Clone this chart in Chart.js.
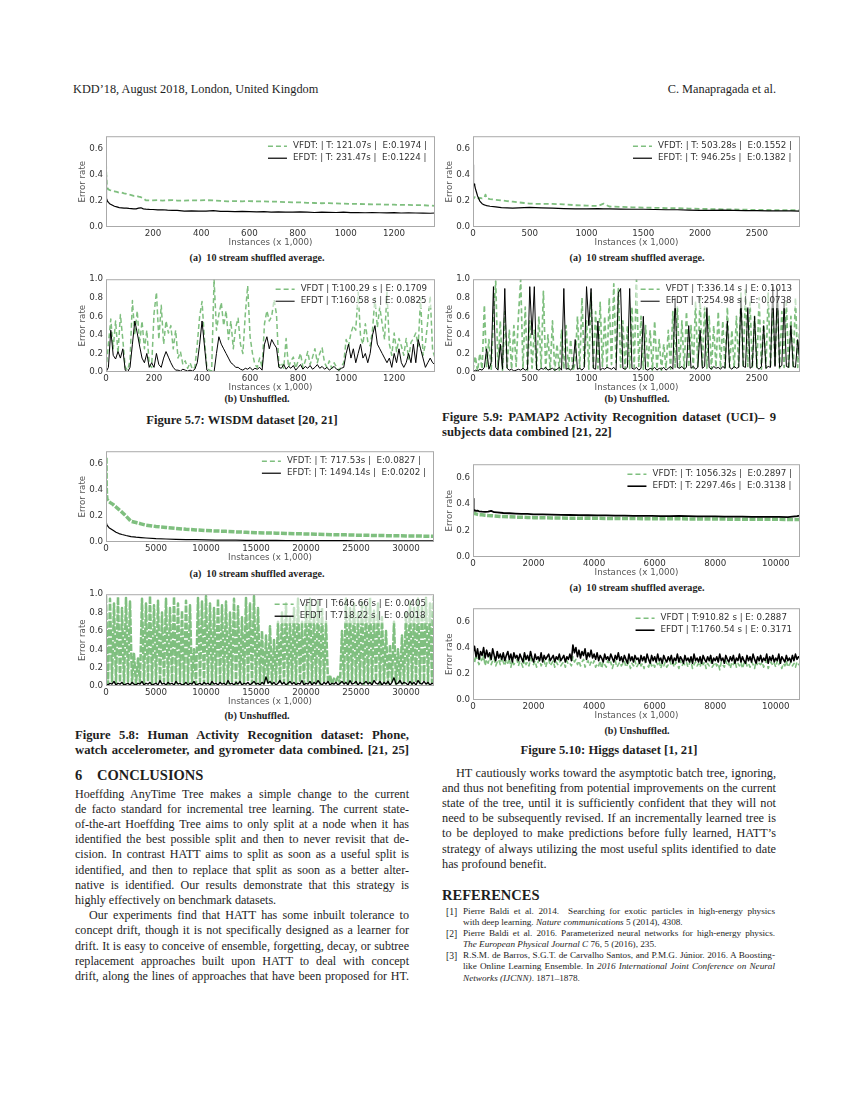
<!DOCTYPE html>
<html>
<head>
<meta charset="utf-8">
<script src="https://cdn.jsdelivr.net/npm/chart.js@4"></script>
<style>
  html, body { margin: 0; background: #fff; }
  #page { position: relative; width: 850px; height: 1100px; overflow: hidden;
          font-family: 'Liberation Serif', 'Times New Roman', serif; color: #1e1e1e; }
  canvas { position: absolute; }
  .abs { position: absolute; white-space: nowrap; }
  .hdr { font-size: 12.3px; line-height: 14px; }
  .sub { position: absolute; white-space: nowrap; font-weight: bold; font-size: 10.1px; line-height: 1;
         transform: translate(-50%, -50%); }
  .figc { position: absolute; white-space: nowrap; font-weight: bold; font-size: 12.6px; line-height: 1;
          transform: translate(-50%, -50%); }
  .block { position: absolute; }
  .ln { white-space: normal; }
  .ln.j { text-align: justify; text-align-last: justify; }
  .ln.ind { padding-left: 14px; }
  .measuring .ln { white-space: nowrap; text-align: left !important; text-align-last: auto !important; }
  .sect { position: absolute; font-weight: bold; font-size: 14.5px; line-height: 18px; white-space: nowrap; }
  .refno { position: absolute; font-size: 9.6px; line-height: 11.1px; }
</style>
</head>
<body>
<div id="page">
  <div class="abs hdr" style="left:73px; top:82px">KDD’18, August 2018, London, United Kingdom</div>
  <div class="abs hdr" style="right:74px; top:82px">C. Manapragada et al.</div>

  <div class="sub" style="left:257px; top:258px">(a)&ensp;10 stream shuffled average.</div>
  <div class="sub" style="left:257px; top:399px">(b) Unshuffled.</div>
  <div class="figc" style="left:242px; top:420px">Figure 5.7: WISDM dataset [20, 21]</div>

  <div class="sub" style="left:637px; top:258px">(a)&ensp;10 stream shuffled average.</div>
  <div class="sub" style="left:637px; top:399px">(b) Unshuffled.</div>
  <div class="block cap2" style="left:442px; top:410px; width:334px; line-height:15px; font-weight:bold">
    <div class="ln j">Figure 5.9: PAMAP2 Activity Recognition dataset (UCI)– 9</div>
    <div class="ln">subjects data combined [21, 22]</div>
  </div>

  <div class="sub" style="left:257px; top:574px">(a)&ensp;10 stream shuffled average.</div>
  <div class="sub" style="left:257px; top:716px">(b) Unshuffled.</div>
  <div class="block cap2" style="left:75px; top:728px; width:334px; line-height:15px; font-weight:bold">
    <div class="ln j">Figure 5.8: Human Activity Recognition dataset: Phone,</div>
    <div class="ln j">watch accelerometer, and gyrometer data combined. [21, 25]</div>
  </div>

  <div class="sub" style="left:637px; top:588px">(a)&ensp;10 stream shuffled average.</div>
  <div class="sub" style="left:637px; top:731px">(b) Unshuffled.</div>
  <div class="figc" style="left:609px; top:750px">Figure 5.10: Higgs dataset [1, 21]</div>

  <div class="sect" style="left:75px; top:766px">6</div>
  <div class="sect" style="left:97px; top:766px">CONCLUSIONS</div>
  <div class="block body" style="left:75px; top:786.5px; width:334px; line-height:15.2px">
    <div class="ln j">Hoeffding AnyTime Tree makes a simple change to the current</div>
    <div class="ln j">de facto standard for incremental tree learning. The current state-</div>
    <div class="ln j">of-the-art Hoeffding Tree aims to only split at a node when it has</div>
    <div class="ln j">identified the best possible split and then to never revisit that de-</div>
    <div class="ln j">cision. In contrast HATT aims to split as soon as a useful split is</div>
    <div class="ln j">identified, and then to replace that split as soon as a better alter-</div>
    <div class="ln j">native is identified. Our results demonstrate that this strategy is</div>
    <div class="ln">highly effectively on benchmark datasets.</div>
    <div class="ln j ind">Our experiments find that HATT has some inbuilt tolerance to</div>
    <div class="ln j">concept drift, though it is not specifically designed as a learner for</div>
    <div class="ln j">drift. It is easy to conceive of ensemble, forgetting, decay, or subtree</div>
    <div class="ln j">replacement approaches built upon HATT to deal with concept</div>
    <div class="ln j">drift, along the lines of approaches that have been proposed for HT.</div>
  </div>

  <div class="block body" style="left:442px; top:765.5px; width:334px; line-height:15.2px">
    <div class="ln j ind">HT cautiously works toward the asymptotic batch tree, ignoring,</div>
    <div class="ln j">and thus not benefiting from potential improvements on the current</div>
    <div class="ln j">state of the tree, until it is sufficiently confident that they will not</div>
    <div class="ln j">need to be subsequently revised. If an incrementally learned tree is</div>
    <div class="ln j">to be deployed to make predictions before fully learned, HATT’s</div>
    <div class="ln j">strategy of always utilizing the most useful splits identified to date</div>
    <div class="ln">has profound benefit.</div>
  </div>

  <div class="sect" style="left:442px; top:886px">REFERENCES</div>
  <div class="refno" style="left:446px; top:906px">[1]</div>
  <div class="refno" style="left:446px; top:928.2px">[2]</div>
  <div class="refno" style="left:446px; top:950.4px">[3]</div>
  <div class="block refs" style="left:463px; top:906px; width:312px; line-height:11.1px">
    <div class="ln j">Pierre Baldi et al. 2014.&nbsp; Searching for exotic particles in high-energy physics</div>
    <div class="ln">with deep learning. <i>Nature communications</i> 5 (2014), 4308.</div>
    <div class="ln j">Pierre Baldi et al. 2016. Parameterized neural networks for high-energy physics.</div>
    <div class="ln"><i>The European Physical Journal C</i> 76, 5 (2016), 235.</div>
    <div class="ln j">R.S.M. de Barros, S.G.T. de Carvalho Santos, and P.M.G. Júnior. 2016. A Boosting-</div>
    <div class="ln j">like Online Learning Ensemble. In <i>2016 International Joint Conference on Neural</i></div>
    <div class="ln"><i>Networks (IJCNN)</i>. 1871–1878.</div>
  </div>
</div>

<script>
// ---- tick labels ----
var errTicksShort = [0, 0.2, 0.4, 0.6];
var errTicksFull = [0, 0.2, 0.4, 0.6, 0.8, 1.0];
var wisdmShufTicks = [200, 400, 600, 800, 1000, 1200];
var wisdmRawTicks = [0, 200, 400, 600, 800, 1000, 1200];
var pamapTicks = [0, 500, 1000, 1500, 2000, 2500];
var harTicks = [0, 5000, 10000, 15000, 20000, 25000, 30000];
var higgsTicks = [0, 2000, 4000, 6000, 8000, 10000];

// ---- WISDM (Figure 5.7) ----
var wisdmShufX = [5, 6, 8, 11, 15, 20, 30, 40, 50, 60, 70, 80, 90, 100, 110, 120, 130, 140, 150, 160, 170, 185, 200,
  220, 240, 260, 280, 300, 330, 360, 390, 420, 450, 480, 510, 540, 570, 600, 630, 660, 690, 720, 750, 780, 810, 840,
  870, 900, 930, 960, 990, 1020, 1050, 1080, 1110, 1140, 1170, 1200, 1230, 1260, 1290, 1320, 1350, 1370];
var wisdmShufVfdt = [0.55, 0.42, 0.33, 0.30, 0.29, 0.285,
  0.28, 0.275, 0.27, 0.265, 0.266, 0.26, 0.256, 0.25, 0.246, 0.24, 0.241, 0.235, 0.23, 0.22, 0.206,
  0.205, 0.206,
  0.208, 0.204, 0.206, 0.207, 0.204,
  0.203, 0.206, 0.205, 0.207, 0.205, 0.201, 0.198, 0.2, 0.198, 0.2, 0.197, 0.197, 0.196, 0.195, 0.192,
  0.19, 0.19, 0.186, 0.185, 0.183, 0.184, 0.182, 0.18, 0.178, 0.178, 0.176, 0.175, 0.175, 0.172, 0.172,
  0.17, 0.17, 0.168, 0.168, 0.165,
  0.163];
var wisdmShufEfdt = [0.40, 0.26, 0.22, 0.20, 0.19, 0.18,
  0.17, 0.16, 0.155, 0.15, 0.148, 0.145, 0.145, 0.143, 0.142, 0.14, 0.14, 0.145, 0.148, 0.14, 0.138,
  0.136, 0.135,
  0.132, 0.133, 0.13, 0.128, 0.128,
  0.122, 0.124, 0.122, 0.123, 0.126, 0.12, 0.12, 0.118, 0.12, 0.118, 0.116, 0.118, 0.115, 0.117, 0.115,
  0.114, 0.116, 0.114, 0.112, 0.115, 0.113, 0.112, 0.114, 0.111, 0.112, 0.11, 0.112, 0.11, 0.109, 0.111,
  0.108, 0.11, 0.108, 0.107, 0.106,
  0.108];
var wisdmShufLabels = ['VFDT: | T: 121.07s |  E:0.1974 |', 'EFDT: | T: 231.47s |  E:0.1224 |'];

var wisdmRawStep = 10;
var wisdmRawVfdt = [
  0.02, 0.30, 0.57, 0.25, 0.55, 0.20, 0.62, 0.35, 0.05, 0.02,
  0.12, 0.77, 0.40, 0.66, 0.30, 0.55, 0.25, 0.45, 0.08, 0.05,
  0.63, 0.86, 0.35, 0.72, 0.30, 0.55, 0.42, 0.50, 0.25, 0.45,
  0.15, 0.22, 0.08, 0.12, 0.04, 0.10, 0.03, 0.05, 0.30, 0.60,
  0.76, 0.35, 0.05, 0.02, 0.01, 1.00, 0.45, 0.62, 0.75, 0.50,
  0.66, 0.35, 0.55, 0.25, 0.48, 0.58, 0.30, 0.20, 0.62, 0.93,
  0.38, 0.20, 0.08, 0.05, 0.15, 0.05, 0.52, 0.66, 0.55, 0.60,
  0.78, 0.62, 0.06, 0.10, 0.04, 0.36, 0.05, 0.12, 0.16, 0.04,
  0.12, 0.20, 0.05, 0.12, 0.22, 0.08, 0.16, 0.25, 0.10, 0.20,
  0.26, 0.10, 0.05, 0.12, 0.04, 0.10, 0.05, 0.02, 0.06, 0.10,
  0.35, 0.28, 0.42, 0.50, 0.45, 0.86, 0.38, 0.30, 0.52, 0.33,
  0.28, 0.46, 0.80, 0.48, 0.70, 0.52, 0.35, 0.86, 0.30, 0.18,
  0.42, 0.22, 0.36, 0.28, 0.18, 0.36, 0.14, 0.32, 0.36, 0.42,
  0.28, 0.80, 0.18, 0.30, 0.55, 0.82, 0.24, 0.15];
var wisdmRawEfdt = [
  0.00, 0.05, 0.45, 0.18, 0.14, 0.22, 0.15, 0.25, 0.02, 0.00,
  0.05, 0.30, 0.55, 0.42, 0.28, 0.15, 0.10, 0.20, 0.05, 0.10,
  0.05, 0.20, 0.08, 0.05, 0.15, 0.22, 0.16, 0.10, 0.05, 0.02,
  0.02, 0.01, 0.03, 0.02, 0.01, 0.02, 0.01, 0.03, 0.10, 0.30,
  0.55, 0.28, 0.02, 0.00, 0.00, 0.00, 0.20, 0.38, 0.30, 0.25,
  0.20, 0.15, 0.10, 0.08, 0.05, 0.05, 0.03, 0.02, 0.04, 0.03,
  0.05, 0.02, 0.04, 0.03, 0.05, 0.02, 0.30, 0.38, 0.25, 0.35,
  0.30, 0.26, 0.05, 0.04, 0.08, 0.03, 0.06, 0.04, 0.07, 0.02,
  0.05, 0.08, 0.03, 0.06, 0.04, 0.07, 0.03, 0.05, 0.08, 0.04,
  0.06, 0.03, 0.05, 0.02, 0.04, 0.06, 0.03, 0.02, 0.04, 0.05,
  0.20, 0.30, 0.15, 0.25, 0.10, 0.20, 0.30, 0.15, 0.20, 0.10,
  0.20, 0.40, 0.50, 0.30, 0.25, 0.20, 0.15, 0.10, 0.15, 0.05,
  0.20, 0.10, 0.25, 0.10, 0.05, 0.10, 0.20, 0.10, 0.30, 0.10,
  0.35, 0.25, 0.15, 0.05, 0.10, 0.15, 0.10, 0.08];
var wisdmRawLabels = ['VFDT | T:100.29 s | E: 0.1709', 'EFDT | T:160.58 s | E: 0.0825'];

// ---- PAMAP2 (Figure 5.9) ----
var pamapShufX = [0, 3, 6, 10, 15, 20, 30, 40, 50, 60, 80, 100, 110, 120, 150, 200, 250, 300, 350, 400, 450, 500,
  600, 700, 800, 900, 1000, 1100, 1150, 1200, 1300, 1400, 1500, 1600, 1700, 1800, 1900, 2000, 2100, 2200, 2300,
  2400, 2500, 2600, 2700, 2800, 2880];
var pamapShufVfdt = [0.22, 0.23, 0.22, 0.225, 0.23, 0.225, 0.23, 0.225, 0.22, 0.225,
  0.22, 0.225, 0.25, 0.22, 0.215,
  0.21, 0.205, 0.2, 0.195, 0.19, 0.185, 0.18,
  0.178, 0.178, 0.175, 0.168, 0.165, 0.162,
  0.18,
  0.158, 0.155, 0.152, 0.15, 0.148, 0.146, 0.145, 0.142, 0.14, 0.138, 0.136, 0.135, 0.133, 0.132, 0.131, 0.13, 0.13,
  0.129];
var pamapShufEfdt = [0.48, 0.35, 0.34, 0.33, 0.32, 0.30, 0.27, 0.24, 0.22, 0.20,
  0.18, 0.17, 0.168, 0.165, 0.16,
  0.155, 0.15, 0.148, 0.145, 0.148, 0.15, 0.152,
  0.148, 0.145, 0.142, 0.14, 0.14, 0.142,
  0.14,
  0.14, 0.138, 0.137, 0.137, 0.135, 0.133, 0.133, 0.13, 0.128, 0.128, 0.13, 0.128, 0.127, 0.127, 0.125, 0.125, 0.124,
  0.123];
var pamapShufLabels = ['VFDT: | T: 503.28s |  E:0.1552 |', 'EFDT: | T: 946.25s |  E:0.1382 |'];

var pamapRawStep = 20;
var pamapRawVfdt = [
  0.02, 0.17, 0.01, 0.20, 0.03, 0.72, 0.05, 0.35, 0.02, 0.60,
  0.98, 0.04, 0.55, 0.02, 0.65, 0.05, 0.45, 0.03, 0.50, 0.06,
  0.60, 1.00, 0.03, 0.70, 0.02, 0.55, 0.04, 0.45, 0.03, 0.60,
  0.05, 0.87, 0.03, 0.40, 0.02, 0.55, 0.01, 0.30, 0.02, 0.45,
  0.03, 0.50, 0.02, 0.35, 0.01, 0.10, 0.60, 0.04, 0.80, 0.05,
  0.55, 0.03, 0.85, 0.05, 0.65, 0.04, 0.75, 0.06, 0.60, 0.05,
  0.80, 0.08, 0.95, 0.10, 0.90, 0.05, 0.55, 0.03, 0.50, 0.04,
  0.70, 0.05, 1.00, 0.06, 0.60, 0.03, 0.50, 0.04, 0.45, 0.02,
  0.55, 0.03, 0.35, 0.02, 0.30, 0.04, 0.45, 0.03, 0.65, 0.05,
  0.70, 0.04, 0.55, 0.03, 0.65, 0.05, 0.50, 0.04, 0.75, 0.06,
  0.80, 0.05, 0.70, 0.04, 0.60, 0.03, 0.50, 0.05, 0.65, 0.04,
  0.55, 0.03, 0.70, 0.05, 0.45, 0.04, 0.60, 0.06, 0.85, 0.05,
  0.90, 0.06, 0.75, 0.04, 0.60, 0.05, 0.80, 0.03, 0.55, 0.04,
  0.85, 0.05, 0.70, 0.06, 0.80, 0.04, 0.65, 0.05, 0.75, 0.03,
  0.60, 0.04, 0.80, 0.05, 0.55];
var pamapRawEfdt = [
  0.00, 0.02, 0.01, 0.03, 0.02, 0.05, 0.25, 0.03, 0.10, 0.92,
  0.05, 0.02, 0.30, 0.03, 0.90, 0.04, 0.02, 0.03, 0.01, 0.02,
  0.03, 0.02, 0.04, 0.02, 0.03, 0.92, 0.40, 0.92, 0.03, 0.02,
  0.04, 0.03, 0.05, 0.02, 0.03, 0.04, 0.02, 0.03, 0.05, 0.02,
  0.90, 0.03, 0.04, 0.02, 0.05, 0.35, 0.03, 0.04, 0.02, 0.05,
  0.92, 0.50, 0.90, 0.04, 0.03, 0.55, 0.02, 0.04, 0.03, 0.05,
  0.04, 0.03, 0.05, 0.02, 0.85, 0.90, 0.04, 0.03, 0.05, 0.90,
  0.04, 0.03, 0.05, 0.02, 0.04, 0.60, 0.03, 0.02, 0.04, 0.03,
  0.05, 0.02, 0.04, 0.03, 0.05, 0.02, 0.04, 0.06, 0.03, 0.80,
  0.05, 0.04, 0.06, 0.03, 0.05, 0.50, 0.04, 0.06, 0.03, 0.05,
  0.45, 0.04, 0.06, 0.70, 0.05, 0.03, 0.06, 0.04, 0.05, 0.03,
  0.06, 0.04, 0.55, 0.05, 0.03, 0.06, 0.04, 0.05, 0.80, 0.06,
  0.05, 0.70, 0.04, 0.06, 0.60, 0.05, 0.03, 0.06, 0.50, 0.04,
  0.06, 0.05, 0.92, 0.06, 0.90, 0.05, 0.07, 0.75, 0.06, 0.05,
  0.50, 0.06, 0.05, 0.35, 0.07];
var pamapRawLabels = ['VFDT | T:336.14 s | E: 0.1013', 'EFDT | T:254.98 s | E: 0.0738'];

// ---- Human Activity Recognition (Figure 5.8) ----
var harShufX = [0, 20, 50, 100, 200, 300, 500, 700, 1000, 1300, 1600, 2000, 2500, 3000, 3500, 4000,
  5000, 6000, 7000, 8000, 9000, 10000, 11000, 12000, 13000, 14000, 15000, 16000, 17000, 18000, 19000,
  20000, 21000, 22000, 23000, 24000, 25000, 26000, 27000, 28000, 29000, 30000, 31000, 32000, 32800];
var harShufVfdt = [0.65, 0.45, 0.36, 0.33, 0.32, 0.31, 0.30, 0.29, 0.27, 0.25, 0.23, 0.20, 0.16, 0.15, 0.14, 0.13,
  0.12, 0.112, 0.105, 0.098, 0.093, 0.088, 0.085, 0.082, 0.078, 0.075, 0.072, 0.07, 0.068, 0.066, 0.064,
  0.062, 0.06, 0.058, 0.056, 0.055, 0.053, 0.052, 0.05, 0.049, 0.048, 0.047, 0.046, 0.045, 0.044];
var harShufEfdt = [0.25, 0.18, 0.15, 0.13, 0.12, 0.11, 0.10, 0.09, 0.075, 0.065, 0.058, 0.05, 0.042, 0.037, 0.034, 0.031,
  0.026, 0.023, 0.021, 0.019, 0.018, 0.016, 0.015, 0.015, 0.014, 0.013, 0.013, 0.012, 0.012, 0.011, 0.011,
  0.011, 0.01, 0.01, 0.01, 0.01, 0.009, 0.009, 0.009, 0.009, 0.008, 0.008, 0.008, 0.008, 0.008];
var harShufLabels = ['VFDT: | T: 717.53s |  E:0.0827 |', 'EFDT: | T: 1494.14s |  E:0.0202 |'];

var harRawStep = 200;
var harRawVfdt = [
  0.98, 0.02, 0.95, 0.05, 0.90, 0.03, 0.97, 0.04, 0.85, 0.02,
  0.96, 0.05, 0.92, 0.03, 0.35, 0.02, 0.30, 0.04, 0.95, 0.03,
  0.90, 0.05, 0.98, 0.02, 0.88, 0.04, 0.93, 0.03, 0.80, 0.05,
  0.95, 0.02, 0.85, 0.04, 0.97, 0.03, 0.90, 0.05, 0.82, 0.02,
  0.93, 0.04, 0.88, 0.03, 0.40, 0.02, 0.96, 0.05, 0.92, 0.03,
  0.98, 0.04, 0.90, 0.02, 0.85, 0.05, 0.95, 0.03, 0.88, 0.04,
  0.92, 0.03, 0.80, 0.05, 0.95, 0.02, 0.87, 0.04, 0.75, 0.03,
  0.96, 0.05, 0.90, 0.03, 0.98, 0.02, 0.85, 0.04, 0.60, 0.03,
  0.55, 0.04, 0.65, 0.02, 0.50, 0.05, 0.70, 0.03, 0.80, 0.04,
  0.90, 0.02, 0.75, 0.05, 0.85, 0.03, 0.95, 0.04, 0.70, 0.02,
  0.88, 0.05, 0.95, 0.03, 0.80, 0.04, 0.92, 0.02, 0.85, 0.05,
  0.70, 0.03, 0.12, 0.02, 0.08, 0.05, 0.10, 0.03, 0.60, 0.04,
  0.95, 0.02, 0.85, 0.05, 0.90, 0.03, 0.80, 0.04, 0.93, 0.02,
  0.88, 0.04, 0.96, 0.03, 0.82, 0.05, 0.90, 0.02, 0.75, 0.04,
  0.60, 0.03, 0.45, 0.05, 0.70, 0.02, 0.40, 0.04, 0.55, 0.03,
  0.80, 0.05, 0.92, 0.02, 0.85, 0.04, 0.95, 0.03, 0.88, 0.05,
  0.96, 0.03, 0.90, 0.04, 0.98];
var harRawEfdt = [
  0.02, 0.01, 0.03, 0.02, 0.05, 0.01, 0.03, 0.02, 0.04, 0.01,
  0.02, 0.03, 0.01, 0.04, 0.02, 0.01, 0.03, 0.02, 0.05, 0.01,
  0.03, 0.02, 0.04, 0.01, 0.02, 0.03, 0.01, 0.06, 0.02, 0.03,
  0.01, 0.04, 0.02, 0.03, 0.01, 0.05, 0.02, 0.03, 0.01, 0.02,
  0.04, 0.01, 0.03, 0.02, 0.05, 0.01, 0.02, 0.03, 0.01, 0.04,
  0.02, 0.03, 0.01, 0.05, 0.02, 0.03, 0.01, 0.04, 0.02, 0.03,
  0.01, 0.06, 0.02, 0.03, 0.01, 0.04, 0.02, 0.05, 0.01, 0.03,
  0.02, 0.04, 0.01, 0.03, 0.05, 0.02, 0.03, 0.01, 0.04, 0.02,
  0.10, 0.03, 0.05, 0.02, 0.04, 0.01, 0.03, 0.06, 0.02, 0.04,
  0.01, 0.03, 0.05, 0.02, 0.04, 0.01, 0.03, 0.02, 0.06, 0.01,
  0.03, 0.02, 0.05, 0.01, 0.04, 0.02, 0.06, 0.03, 0.01, 0.04,
  0.02, 0.05, 0.01, 0.03, 0.02, 0.04, 0.01, 0.03, 0.05, 0.02,
  0.04, 0.01, 0.06, 0.02, 0.03, 0.05, 0.01, 0.04, 0.02, 0.03,
  0.05, 0.02, 0.04, 0.01, 0.06, 0.03, 0.02, 0.05, 0.01, 0.04,
  0.02, 0.05, 0.01, 0.04, 0.09, 0.02, 0.03, 0.06, 0.02, 0.04,
  0.03, 0.01, 0.05, 0.02, 0.04, 0.01, 0.06, 0.03, 0.02, 0.05,
  0.02, 0.04, 0.01, 0.03, 0.02];
var harRawLabels = ['VFDT | T:646.66 s | E: 0.0405', 'EFDT | T:718.22 s | E: 0.0018'];

// ---- Higgs (Figure 5.10) ----
var higgsShufX = [0, 10, 30, 60, 100, 150, 200, 300, 400, 500, 600, 700, 800, 1000, 1200, 1400, 1600, 1800, 2000,
  2300, 2600, 2900, 3200, 3500, 3800, 4100, 4400, 4700, 5000, 5300, 5600, 5900, 6200, 6500, 6800, 7100, 7400,
  7700, 8000, 8300, 8600, 8900, 9200, 9500, 9800, 10100, 10400, 10700, 10800];
var higgsShufVfdt = [0.34, 0.335, 0.33, 0.328, 0.325, 0.322, 0.32, 0.318, 0.315, 0.313, 0.312, 0.31, 0.308,
  0.305, 0.303, 0.301, 0.3, 0.298, 0.297,
  0.296, 0.295, 0.294, 0.293, 0.293, 0.292, 0.292, 0.291, 0.291, 0.29,
  0.29, 0.289, 0.289, 0.288, 0.288, 0.288, 0.287, 0.287, 0.286, 0.286,
  0.286, 0.285, 0.285, 0.285, 0.284, 0.284, 0.284, 0.283, 0.283,
  0.283];
var higgsShufEfdt = [0.44, 0.36, 0.35, 0.352, 0.348, 0.35, 0.345, 0.342, 0.34, 0.342, 0.348, 0.338, 0.336,
  0.332, 0.33, 0.328, 0.326, 0.325, 0.322,
  0.321, 0.32, 0.318, 0.317, 0.316, 0.315, 0.314, 0.314, 0.312, 0.312,
  0.311, 0.31, 0.31, 0.309, 0.309, 0.31, 0.308, 0.307, 0.306, 0.306,
  0.305, 0.305, 0.304, 0.303, 0.303, 0.302, 0.302, 0.301, 0.308,
  0.312];
var higgsShufLabels = ['VFDT: | T: 1056.32s |  E:0.2897 |', 'EFDT: | T: 2297.46s |  E:0.3138 |'];

var higgsRawStep = 50;
var higgsRawVfdt = [
  0.33, 0.28, 0.35, 0.30, 0.27, 0.32, 0.29, 0.34, 0.26, 0.31,
  0.28, 0.33, 0.27, 0.30, 0.32, 0.26, 0.29, 0.31, 0.27, 0.33,
  0.29, 0.26, 0.31, 0.28, 0.32, 0.25, 0.30, 0.27, 0.29, 0.31,
  0.26, 0.30, 0.28, 0.25, 0.31, 0.27, 0.29, 0.26, 0.32, 0.28,
  0.27, 0.30, 0.25, 0.29, 0.31, 0.26, 0.28, 0.30, 0.25, 0.29,
  0.31, 0.26, 0.28, 0.30, 0.25, 0.29, 0.27, 0.31, 0.26, 0.28,
  0.29, 0.25, 0.30, 0.27, 0.28, 0.26, 0.33, 0.29, 0.31, 0.27,
  0.30, 0.26, 0.29, 0.31, 0.25, 0.28, 0.30, 0.26, 0.29, 0.27,
  0.30, 0.25, 0.28, 0.26, 0.30, 0.24, 0.29, 0.27, 0.25, 0.30,
  0.27, 0.29, 0.24, 0.28, 0.30, 0.25, 0.27, 0.29, 0.26, 0.28,
  0.30, 0.25, 0.27, 0.29, 0.24, 0.28, 0.26, 0.30, 0.25, 0.27,
  0.29, 0.26, 0.28, 0.24, 0.30, 0.27, 0.25, 0.29, 0.26, 0.28,
  0.25, 0.29, 0.27, 0.30, 0.24, 0.28, 0.26, 0.29, 0.25, 0.27,
  0.30, 0.26, 0.28, 0.25, 0.29, 0.27, 0.24, 0.30, 0.26, 0.28,
  0.27, 0.29, 0.25, 0.28, 0.30, 0.24, 0.27, 0.29, 0.26, 0.28,
  0.25, 0.30, 0.27, 0.29, 0.24, 0.28, 0.26, 0.30, 0.25, 0.27,
  0.29, 0.26, 0.28, 0.23, 0.29, 0.27, 0.25, 0.30, 0.26, 0.28,
  0.24, 0.29, 0.27, 0.30, 0.25, 0.28, 0.26, 0.29, 0.24, 0.28,
  0.30, 0.26, 0.28, 0.25, 0.29, 0.27, 0.24, 0.30, 0.26, 0.28,
  0.27, 0.29, 0.25, 0.28, 0.30, 0.24, 0.27, 0.29, 0.26, 0.28,
  0.25, 0.30, 0.27, 0.29, 0.24, 0.28, 0.26, 0.30, 0.25, 0.27,
  0.29, 0.26, 0.28, 0.25, 0.29, 0.27, 0.28];
var higgsRawEfdt = [
  0.36, 0.41, 0.33, 0.39, 0.31, 0.37, 0.34, 0.40, 0.32, 0.38,
  0.33, 0.36, 0.31, 0.39, 0.34, 0.30, 0.37, 0.32, 0.35, 0.31,
  0.36, 0.30, 0.34, 0.37, 0.31, 0.35, 0.29, 0.36, 0.32, 0.34,
  0.30, 0.35, 0.32, 0.29, 0.36, 0.31, 0.34, 0.30, 0.37, 0.32,
  0.29, 0.35, 0.31, 0.33, 0.30, 0.36, 0.29, 0.34, 0.31, 0.33,
  0.35, 0.30, 0.32, 0.34, 0.29, 0.33, 0.31, 0.35, 0.30, 0.32,
  0.34, 0.29, 0.33, 0.31, 0.35, 0.30, 0.42, 0.36, 0.40, 0.33,
  0.38, 0.32, 0.37, 0.34, 0.39, 0.31, 0.36, 0.33, 0.38, 0.32,
  0.35, 0.31, 0.36, 0.30, 0.34, 0.32, 0.29, 0.35, 0.31, 0.33,
  0.30, 0.35, 0.32, 0.29, 0.34, 0.31, 0.36, 0.30, 0.33, 0.29,
  0.34, 0.31, 0.28, 0.35, 0.30, 0.33, 0.29, 0.34, 0.31, 0.32,
  0.28, 0.34, 0.30, 0.33, 0.29, 0.35, 0.31, 0.28, 0.34, 0.30,
  0.33, 0.29, 0.35, 0.30, 0.32, 0.28, 0.34, 0.31, 0.29, 0.33,
  0.30, 0.34, 0.28, 0.32, 0.30, 0.35, 0.29, 0.33, 0.31, 0.28,
  0.34, 0.30, 0.32, 0.29, 0.33, 0.28, 0.35, 0.30, 0.32, 0.29,
  0.33, 0.28, 0.34, 0.31, 0.29, 0.33, 0.30, 0.34, 0.28, 0.32,
  0.30, 0.33, 0.29, 0.35, 0.30, 0.32, 0.28, 0.34, 0.31, 0.29,
  0.33, 0.30, 0.34, 0.28, 0.32, 0.30, 0.35, 0.29, 0.33, 0.30,
  0.28, 0.34, 0.30, 0.33, 0.29, 0.35, 0.31, 0.28, 0.33, 0.30,
  0.34, 0.29, 0.32, 0.30, 0.35, 0.28, 0.33, 0.30, 0.34, 0.29,
  0.32, 0.30, 0.35, 0.28, 0.33, 0.31, 0.29, 0.34, 0.30, 0.32,
  0.29, 0.34, 0.30, 0.35, 0.31, 0.33, 0.32];
var higgsRawLabels = ['VFDT | T:910.82 s | E: 0.2887', 'EFDT | T:1760.54 s | E: 0.3171'];

// ---- drawing ----
var GREEN = '#7fbf7f';
var FRAME = '#aaaaaa';
var Y_AXIS_W = 32, X_AXIS_H = 24, PAD_TOP = 6, PAD_RIGHT = 4;

Chart.defaults.font.family = "'DejaVu Sans', sans-serif";
Chart.defaults.font.size = 8.7;
Chart.defaults.color = '#333';

function stepXs(n, step) {
  var xs = [];
  for (var i = 0; i < n; i++) xs.push(i * step);
  return xs;
}
function points(xs, ys) {
  return ys.map(function (y, i) { return {x: xs[i], y: y}; });
}
function fixedTicks(list) {
  return function (scale) {
    scale.ticks = list.map(function (v) { return {value: v}; });
  };
}

// grey box round the plot, like the matplotlib spines
var framePlugin = {
  id: 'frame',
  afterDraw: function (chart) {
    var a = chart.chartArea, c = chart.ctx;
    c.save();
    c.strokeStyle = FRAME;
    c.lineWidth = 1;
    c.strokeRect(a.left + 0.5, a.top + 0.5, a.right - a.left - 1, a.bottom - a.top - 1);
    c.restore();
  }
};

// legend in the upper right corner of the plot
var cornerLegend = {
  id: 'cornerLegend',
  afterDatasetsDraw: function (chart) {
    var a = chart.chartArea, c = chart.ctx;
    var sets = chart.data.datasets;
    c.save();
    c.font = "8.7px 'DejaVu Sans'";
    var tw = Math.max.apply(null, sets.map(function (d) { return c.measureText(d.label).width; }));
    var textX = a.right - 8 - tw;
    var x1 = textX - 25, x2 = textX - 6;
    c.fillStyle = 'rgba(255,255,255,0.55)';
    c.fillRect(x1 - 5, a.top + 3, a.right - 3 - (x1 - 5), 26);
    sets.forEach(function (d, i) {
      var y = a.top + 10 + i * 12;
      c.strokeStyle = d.borderColor;
      c.lineWidth = Math.min(d.borderWidth, 1.6);
      c.setLineDash(i === 0 ? [5, 3] : []);
      c.beginPath();
      c.moveTo(x1, y);
      c.lineTo(x2, y);
      c.stroke();
      c.setLineDash([]);
      c.fillStyle = '#333';
      c.textBaseline = 'middle';
      c.fillText(d.label, textX, y);
    });
    c.restore();
  }
};

function makePanel(p) {
  var page = document.getElementById('page');
  var cv = document.createElement('canvas');
  var left = p.plotLeft - Y_AXIS_W, top = p.plotTop - PAD_TOP;
  cv.width = p.plotRight + PAD_RIGHT - left;
  cv.height = p.plotBottom + X_AXIS_H - top;
  cv.style.left = left + 'px';
  cv.style.top = top + 'px';
  page.appendChild(cv);

  new Chart(cv, {
    type: 'line',
    data: {
      datasets: [
        { label: p.labels[0], data: points(p.xs, p.vfdt), borderColor: GREEN, borderWidth: p.gw,
          borderDash: p.dash || [5, 3], order: 1 },
        { label: p.labels[1], data: points(p.xs, p.efdt), borderColor: '#000', borderWidth: p.bw, order: 0 }
      ]
    },
    options: {
      responsive: false,
      animation: false,
      devicePixelRatio: 1,
      layout: { padding: { top: PAD_TOP, right: PAD_RIGHT, left: 0, bottom: 0 } },
      elements: {
        point: { radius: 0 },
        line: { tension: 0, borderJoinStyle: 'round', borderCapStyle: 'butt', fill: false }
      },
      plugins: { legend: { display: false }, tooltip: { enabled: false } },
      scales: {
        x: {
          type: 'linear', min: p.xMin, max: p.xMax,
          grid: { display: false, drawTicks: false }, border: { display: false },
          afterBuildTicks: fixedTicks(p.xTicks),
          ticks: { autoSkip: false, maxRotation: 0, padding: 2,
                   callback: function (v) { return String(v); } },
          title: { display: true, text: 'Instances (x 1,000)', color: '#555', padding: { top: 0, bottom: 3.5 } },
          afterFit: function (s) { s.height = X_AXIS_H; }
        },
        y: {
          min: 0, max: p.yMax,
          grid: { display: false, drawTicks: false }, border: { display: false },
          afterBuildTicks: fixedTicks(p.yTicks),
          ticks: { padding: 3, callback: function (v) { return v.toFixed(1); } },
          title: { display: true, text: 'Error rate', color: '#555', padding: { top: 4, bottom: 0 } },
          afterFit: function (s) { s.width = Y_AXIS_W; }
        }
      }
    },
    plugins: [cornerLegend, framePlugin]
  });
}

var panels = [
  { plotLeft: 106, plotRight: 435, plotTop: 134, plotBottom: 227, xs: wisdmShufX, vfdt: wisdmShufVfdt,
    efdt: wisdmShufEfdt, xMin: 5, xMax: 1370, xTicks: wisdmShufTicks, yMax: 0.7, yTicks: errTicksShort,
    labels: wisdmShufLabels, gw: 1.8, bw: 1.2 },
  { plotLeft: 106, plotRight: 435, plotTop: 277, plotBottom: 372, xs: stepXs(wisdmRawVfdt.length, wisdmRawStep),
    vfdt: wisdmRawVfdt, efdt: wisdmRawEfdt, xMin: 0, xMax: 1370, xTicks: wisdmRawTicks, yMax: 1.0,
    yTicks: errTicksFull, labels: wisdmRawLabels, gw: 1.5, bw: 1.0 },
  { plotLeft: 473, plotRight: 800, plotTop: 134, plotBottom: 227, xs: pamapShufX, vfdt: pamapShufVfdt,
    efdt: pamapShufEfdt, xMin: 0, xMax: 2880, xTicks: pamapTicks, yMax: 0.7, yTicks: errTicksShort,
    labels: pamapShufLabels, gw: 1.8, bw: 1.2 },
  { plotLeft: 473, plotRight: 800, plotTop: 277, plotBottom: 372, xs: stepXs(pamapRawVfdt.length, pamapRawStep),
    vfdt: pamapRawVfdt, efdt: pamapRawEfdt, xMin: 0, xMax: 2880, xTicks: pamapTicks, yMax: 1.0,
    yTicks: errTicksFull, labels: pamapRawLabels, gw: 1.7, bw: 1.0 },
  { plotLeft: 106, plotRight: 434, plotTop: 449, plotBottom: 542, xs: harShufX, vfdt: harShufVfdt,
    efdt: harShufEfdt, xMin: 0, xMax: 32800, xTicks: harTicks, yMax: 0.7, yTicks: errTicksShort,
    labels: harShufLabels, gw: 3.5, bw: 1.2, dash: [6, 1.5] },
  { plotLeft: 106, plotRight: 434, plotTop: 592, plotBottom: 686, xs: stepXs(harRawVfdt.length, harRawStep),
    vfdt: harRawVfdt, efdt: harRawEfdt, xMin: 0, xMax: 32800, xTicks: harTicks, yMax: 1.0,
    yTicks: errTicksFull, labels: harRawLabels, gw: 2.5, bw: 1.3, dash: [7, 1.5] },
  { plotLeft: 473, plotRight: 800, plotTop: 462, plotBottom: 557, xs: higgsShufX, vfdt: higgsShufVfdt,
    efdt: higgsShufEfdt, xMin: 0, xMax: 10800, xTicks: higgsTicks, yMax: 0.7, yTicks: errTicksShort,
    labels: higgsShufLabels, gw: 3.5, bw: 1.8, dash: [6, 1.5] },
  { plotLeft: 473, plotRight: 800, plotTop: 606, plotBottom: 700, xs: stepXs(higgsRawVfdt.length, higgsRawStep),
    vfdt: higgsRawVfdt, efdt: higgsRawEfdt, xMin: 0, xMax: 10800, xTicks: higgsTicks, yMax: 0.7,
    yTicks: errTicksShort, labels: higgsRawLabels, gw: 1.6, bw: 1.6 }
];
panels.forEach(makePanel);

// shrink a text block so its longest justified line fits the column
function fitBlock(block, base) {
  block.style.fontSize = base + 'px';
  block.classList.add('measuring');
  var k = 1;
  block.querySelectorAll('.ln.j').forEach(function (ln) {
    var r = document.createRange();
    r.selectNodeContents(ln);
    var natural = r.getBoundingClientRect().width;
    var avail = ln.clientWidth - (parseFloat(getComputedStyle(ln).paddingLeft) || 0);
    k = Math.min(k, avail / natural);
  });
  block.classList.remove('measuring');
  block.style.fontSize = (base * k * 0.99) + 'px';
}
document.querySelectorAll('.block.body').forEach(function (b) { fitBlock(b, 12.5); });
document.querySelectorAll('.block.cap2').forEach(function (b) { fitBlock(b, 12.8); });
document.querySelectorAll('.block.refs').forEach(function (b) { fitBlock(b, 9.6); });
</script>
</body>
</html>
